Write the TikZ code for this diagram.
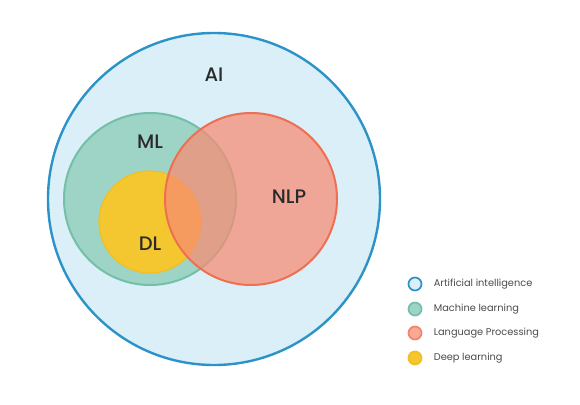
\documentclass[tikz,border=0pt]{standalone}
\usepackage{fontspec}
\setmainfont{Poppins}
\newfontfamily\setnamefont{Poppins Medium}
\usetikzlibrary{positioning}

\definecolor{aifill}{HTML}{DAEFF7}
\definecolor{aiedge}{HTML}{2B93C8}
\definecolor{mlfill}{HTML}{9DD4C6}
\definecolor{mledge}{HTML}{74BFAA}
\definecolor{dlfill}{HTML}{F4C630}
\definecolor{dledge}{HTML}{F3BE22}
\definecolor{nlpfill}{HTML}{F88C73}
\definecolor{nlpedge}{HTML}{EE6F52}
\definecolor{inktext}{HTML}{2A2A2A}

\begin{document}
\begin{tikzpicture}[x=1pt, y=-1pt,
    setlabel/.style = {text = inktext, font = \setnamefont\fontsize{19.5}{19.5}\selectfont},
    keytext/.style  = {text = inktext!85, font = \fontsize{9.8}{9.8}\selectfont, anchor = west},
    keydot/.style   = {circle, minimum size = 13pt, inner sep = 0pt, line width = 1.7pt}
]

        % Fix the page to the size of the reference.
        \useasboundingbox (0, 0) rectangle (580, 404);

        % Centres of the sets.
        \coordinate (AI) at (214, 199);
        \coordinate (ML) at (150, 199);
        \coordinate (DL) at (150, 222);
        \coordinate (NLP) at (251, 199);

        % The outer set holds all the others.
        \draw[fill = aifill, draw = aiedge, line width = 2.4pt] (AI) circle (166pt);

        % Machine learning, and deep learning inside it.
        \draw[fill = mlfill, draw = mledge, line width = 2pt] (ML) circle (86pt);
        \draw[fill = dlfill, draw = dledge, line width = 1.2pt] (DL) circle (51pt);

        % Language processing lies over both, so it is see-through.
        \draw[fill = nlpfill, fill opacity = 0.73, draw = nlpedge, line width = 2pt] (NLP) circle (86pt);

        % Names of the sets.
        \node[setlabel] (ailabel) at (214, 75) {AI};
        \node[setlabel] (mllabel) at (150, 142) {ML};
        \node[setlabel] (nlplabel) at (289, 197) {NLP};
        \node[setlabel] (dllabel) at (150, 244) {DL};

        % The key on the right.
        \node[keydot, fill = aifill, draw = aiedge] (keyai) at (415, 284) {};
        \node[keydot, fill = mlfill, draw = mledge] (keyml) at (415, 309) {};
        \node[keydot, fill = nlpfill!75, draw = nlpedge!85] (keynlp) at (415, 333) {};
        \node[keydot, fill = dlfill, draw = dledge] (keydl) at (415, 358) {};

        \node[keytext, right = 8pt of keyai] (keyaitext) {Artificial intelligence};
        \node[keytext, right = 8pt of keyml] (keymltext) {Machine learning};
        \node[keytext, right = 8pt of keynlp] (keynlptext) {Language Processing};
        \node[keytext, right = 8pt of keydl] (keydltext) {Deep learning};
    \end{tikzpicture}
\end{document}
